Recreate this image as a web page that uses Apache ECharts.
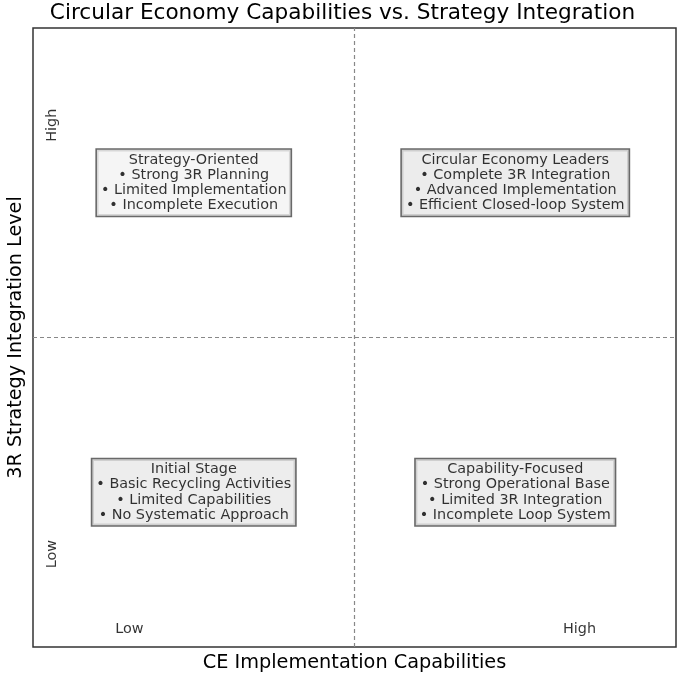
<!DOCTYPE html>
<html><head><meta charset="utf-8">
<script src="https://cdn.jsdelivr.net/npm/echarts@6/dist/echarts.min.js"></script>
<style>html,body{margin:0;padding:0;background:#fff}#c{width:685px;height:676px}</style>
</head><body><div id="c"></div>
<script>
const quadrantTitles = ["Strategy-Oriented", "Circular Economy Leaders", "Initial Stage", "Capability-Focused"];
const quadrantBullets = [
  ["Strong 3R Planning", "Limited Implementation", "Incomplete Execution"],
  ["Complete 3R Integration", "Advanced Implementation", "Efficient Closed-loop System"],
  ["Basic Recycling Activities", "Limited Capabilities", "No Systematic Approach"],
  ["Strong Operational Base", "Limited 3R Integration", "Incomplete Loop System"]
];
const quadrantX = [0.25, 0.75, 0.25, 0.75];
const quadrantY = [0.75, 0.75, 0.25, 0.25];
const xLevelLabels = ["Low", "High"];
const xLevelPos = [0.15, 0.85];
const yLevelLabels = ["Low", "High"];
const yLevelPos = [0.15, 0.843];
const splitX = 0.5, splitY = 0.5;

const boxFills = ["#f3f3f3", "#e7e7e7", "#e9e9e9", "#e9e9e9"];
const FONT = "DejaVu Sans";

const chart = echarts.init(document.getElementById('c'), null, {renderer: 'canvas'});

const boxData = quadrantTitles.map((t, i) => ({
  value: [quadrantX[i], quadrantY[i]],
  label: {
    formatter: [t].concat(quadrantBullets[i].map(b => "\u2022 " + b)).join("\n"),
    backgroundColor: boxFills[i]
  }
}));

chart.setOption({
  animation: false,
  title: {
    text: "Circular Economy Capabilities vs. Strategy Integration",
    left: 'center', top: 2, padding: 0,
    textStyle: {fontFamily: FONT, fontSize: 21.6, fontWeight: 'normal', color: '#000'}
  },
  grid: {left: 33, right: 9, top: 28, bottom: 29, outerBoundsMode: 'none', containLabel: false,
         show: true, borderColor: '#333', borderWidth: 1.5, backgroundColor: '#fff'},
  xAxis: {
    type: 'value', min: 0, max: 1,
    name: "CE Implementation Capabilities", nameLocation: 'middle', nameGap: 6,
    nameTextStyle: {fontFamily: FONT, fontSize: 19.3, color: '#000', verticalAlign: 'top'},
    axisLine: {show: false}, axisTick: {show: false}, axisLabel: {show: false}, splitLine: {show: false}
  },
  yAxis: {
    type: 'value', min: 0, max: 1,
    name: "3R Strategy Integration Level", nameLocation: 'middle', nameGap: 7,
    nameTextStyle: {fontFamily: FONT, fontSize: 19.2, color: '#000', verticalAlign: 'bottom'},
    axisLine: {show: false}, axisTick: {show: false}, axisLabel: {show: false}, splitLine: {show: false}
  },
  series: [
    {
      type: 'line', data: [], silent: true,
      markLine: {
        symbol: 'none', silent: true, label: {show: false},
        lineStyle: {type: [4, 3], color: '#888', width: 1.2},
        data: [{xAxis: splitX}, {yAxis: splitY}]
      }
    },
    {
      type: 'scatter', symbolSize: 0, silent: true,
      data: boxData,
      label: {
        show: true, position: 'inside', align: 'center', verticalAlign: 'middle',
        fontFamily: FONT, fontSize: 14.4, lineHeight: 15.2, color: '#000',
        borderColor: '#444', borderWidth: 1.6, padding: [3, 4, 2, 4]
      }
    },
    {
      type: 'scatter', symbolSize: 0, silent: true,
      data: xLevelLabels.map((t, i) => ({value: [xLevelPos[i], 0.028], name: t})),
      label: {show: true, position: 'inside', formatter: '{b}', fontFamily: FONT, fontSize: 14.4, color: '#000'}
    },
    {
      type: 'scatter', symbolSize: 0, silent: true,
      data: yLevelLabels.map((t, i) => ({value: [0.03, yLevelPos[i]], name: t})),
      label: {show: true, position: 'inside', rotate: 90, formatter: '{b}', fontFamily: FONT, fontSize: 14.4, color: '#000'}
    }
  ]
});
</script></body></html>
